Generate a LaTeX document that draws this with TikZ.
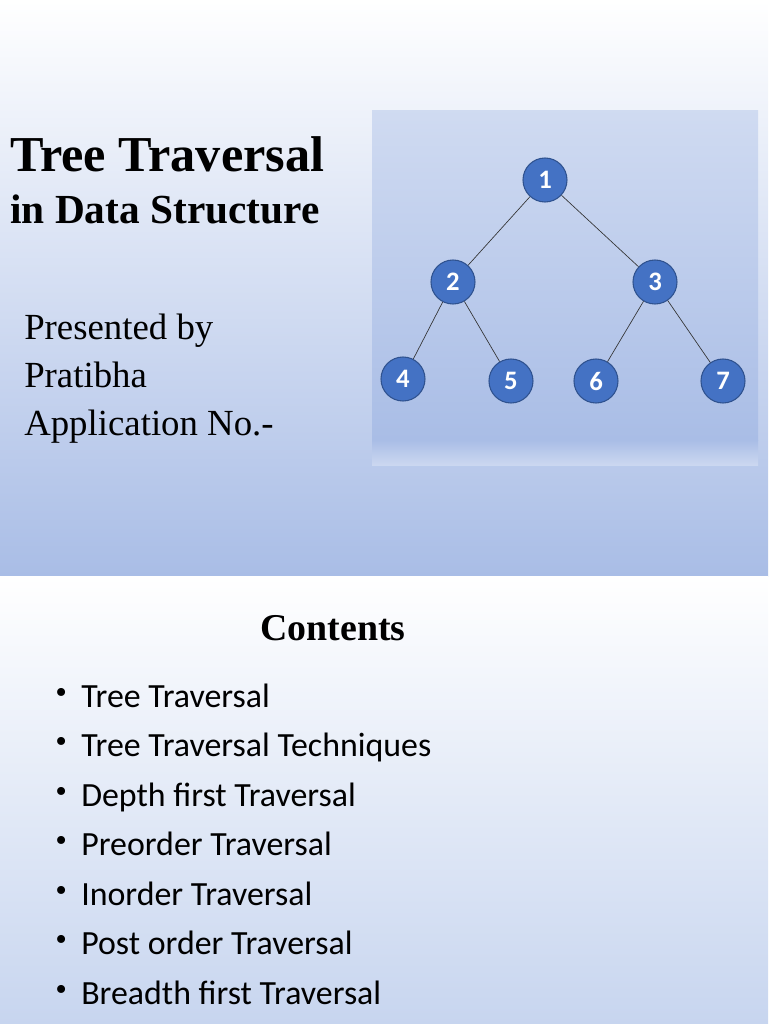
\documentclass[tikz,border=0pt]{standalone}
\usepackage{fontspec}
\setmainfont{Liberation Serif}
\newfontfamily\carl{Carlito}
\definecolor{nodeblue}{HTML}{4472C4}
\definecolor{nodeedge}{HTML}{2F528F}
\definecolor{bgblue}{HTML}{A9BDE6}
\definecolor{bgblue2}{HTML}{C7D5EF}
\begin{document}
\begin{tikzpicture}[x=0.75pt,y=-0.75pt,
  tnode/.style={circle,fill=nodeblue,draw=nodeedge,line width=0.8pt,minimum size=33pt,inner sep=0pt,text=white,font=\carl\bfseries\fontsize{20}{20}\selectfont},
  tedge/.style={draw=black!80,line width=0.5pt},
  bul/.style={anchor=base west,font=\carl\fontsize{25.4}{25.4}\selectfont,inner sep=0pt}]
\useasboundingbox (0,0) rectangle (768,1024);
\shade[top color=white,bottom color=bgblue] (0,0) rectangle (768,576);
\shade[top color=white,bottom color=bgblue2] (0,576) rectangle (768,1024);
\shade[top color=bgblue!55!white,bottom color=bgblue] (372,110) rectangle (758,440);
\shade[top color=bgblue,bottom color=bgblue!60!white] (372,440) rectangle (758,465);
\node[anchor=base west,inner sep=0pt,font=\bfseries\fontsize{37.7}{37.7}\selectfont] (t1) at (10,171) {Tree Traversal};
\node[anchor=base west,inner sep=0pt,font=\bfseries\fontsize{31}{31}\selectfont] (t2) at (10,223) {in Data Structure};
\node[anchor=base west,inner sep=0pt,font=\fontsize{27.6}{27.6}\selectfont] (p1) at (24,339) {Presented by};
\node[anchor=base west,inner sep=0pt,font=\fontsize{27.6}{27.6}\selectfont] (p2) at (24,387) {Pratibha};
\node[anchor=base west,inner sep=0pt,font=\fontsize{27.6}{27.6}\selectfont] (p3) at (24,435) {Application No.-};
\node[tnode] (n1) at (545,180) {1};
\node[tnode] (n2) at (453,282) {2};
\node[tnode] (n3) at (655,282) {3};
\node[tnode] (n4) at (403,379) {4};
\node[tnode] (n5) at (511,381) {5};
\node[tnode] (n6) at (596,381) {6};
\node[tnode] (n7) at (723,381) {7};
\draw[tedge] (n1)--(n2); \draw[tedge] (n1)--(n3);
\draw[tedge] (n2)--(n4); \draw[tedge] (n2)--(n5);
\draw[tedge] (n3)--(n6); \draw[tedge] (n3)--(n7);
\node[anchor=base,inner sep=0pt,font=\bfseries\fontsize{28.4}{28.4}\selectfont] (c) at (333,640) {Contents};
\foreach \i/\t in {0/Tree Traversal,1/Tree Traversal Techniques,2/Depth first Traversal,3/Preorder Traversal,4/Inorder Traversal,5/Post order Traversal,6/Breadth first Traversal}{
  \node[bul] (b\i) at (81,707+49.5*\i) {\t};
  \node[anchor=base west,inner sep=0pt,font=\fontsize{25}{25}\selectfont] (d\i) at (55,703+49.5*\i) {•};
}
\end{tikzpicture}
\end{document}
